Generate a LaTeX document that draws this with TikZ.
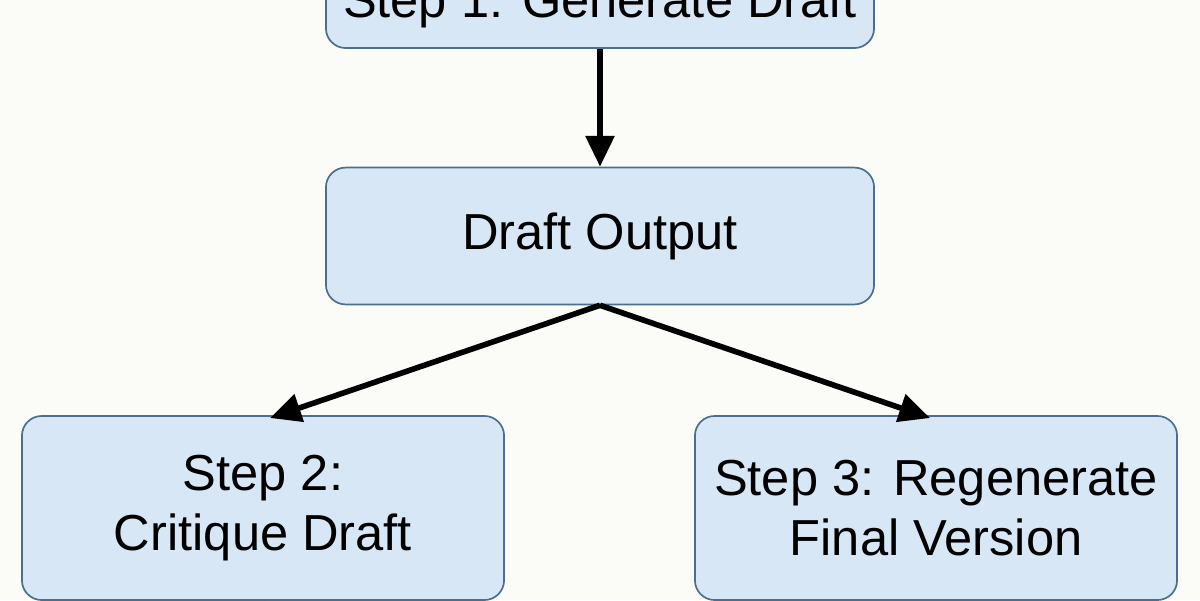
\documentclass[tikz,border=0pt]{standalone}
\usepackage{fontspec}
\setmainfont{Liberation Sans}
\usetikzlibrary{positioning, arrows.meta}
\definecolor{boxfill}{HTML}{D8E7F5}
\definecolor{boxline}{HTML}{4D6F8F}
\definecolor{bgcol}{HTML}{FBFBF8}
\tikzset{
stepbox/.style={draw=boxline, fill=boxfill, line width=1.2pt, rounded corners=14pt, align=center, font=\fontsize{36}{43}\selectfont}, % the boxes
flow/.style={-{Triangle[length=22pt,width=20pt]}, line width=4pt}, % thick black arrows
}
\begin{document}
\begin{tikzpicture}[x=0.025cm,y=-0.025cm]
\fill[bgcol] (0,0) rectangle (1200,600);
\clip (0,0) rectangle (1200,600);
\useasboundingbox (0,0) rectangle (1200,600);
\node[stepbox, minimum width=13.7cm, minimum height=2.2cm] (gen) at (600,4) {Step 1: Generate Draft};
\node[stepbox, minimum width=13.7cm, minimum height=3.42cm] (draft) at (600,236) {Draft Output};
\node[stepbox, minimum width=12.05cm, minimum height=4.6cm] (crit) at (263,508) {Step 2:\\Critique Draft};
\node[stepbox, minimum width=12.05cm, minimum height=4.6cm] (regen) at (936,508) {Step 3: Regenerate\\Final Version};
\coordinate (critin) at (270,418);
\coordinate (regenin) at (930,418);
\draw[flow] (gen.south) -- (draft.north);
\draw[flow] (draft.south) -- (critin);
\draw[flow] (draft.south) -- (regenin);
\draw[line width=3pt] (crit.south) -- ++(0,10);
\draw[line width=3pt] (regen.south) -- ++(0,10);
\end{tikzpicture}
\end{document}
